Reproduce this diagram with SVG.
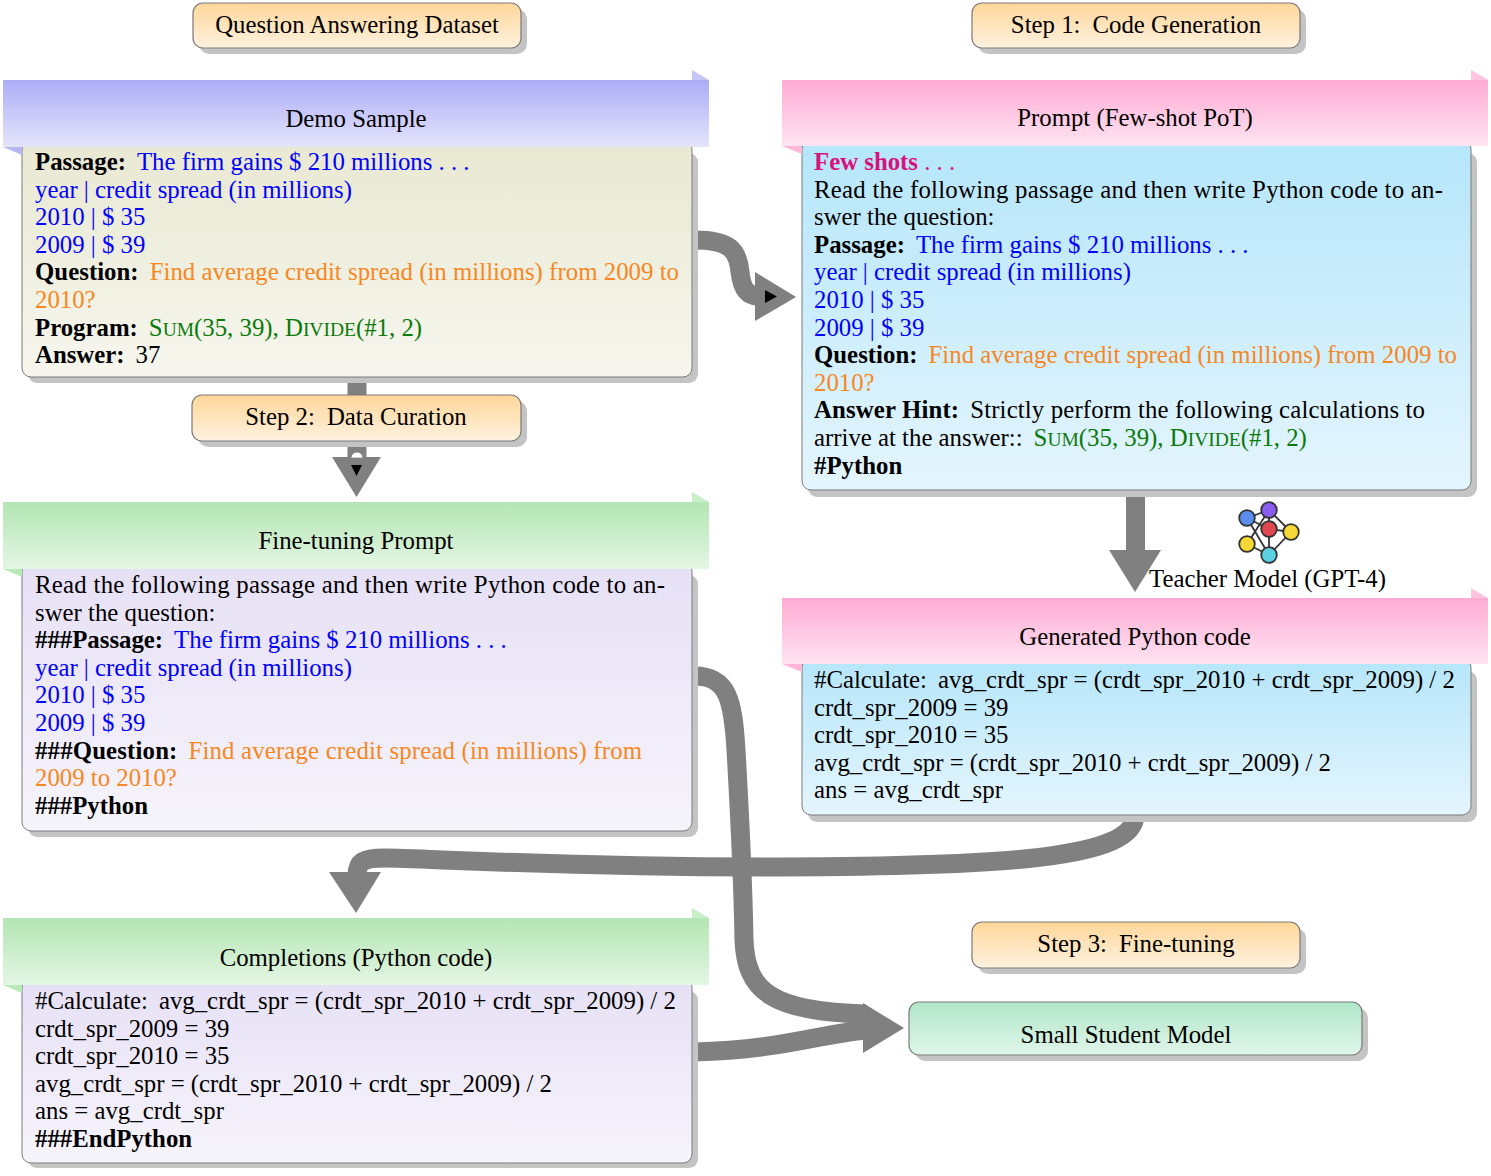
<svg xmlns="http://www.w3.org/2000/svg" width="1491" height="1176" viewBox="0 0 1491 1176">
<defs>
<linearGradient id="gBlueRib" x1="0" y1="0" x2="0" y2="1"><stop offset="0" stop-color="#adadf7"/><stop offset="1" stop-color="#e4e4fb"/></linearGradient>
<linearGradient id="gPinkRib" x1="0" y1="0" x2="0" y2="1"><stop offset="0" stop-color="#ffabd4"/><stop offset="1" stop-color="#ffe4f1"/></linearGradient>
<linearGradient id="gGreenRib" x1="0" y1="0" x2="0" y2="1"><stop offset="0" stop-color="#b3e6b3"/><stop offset="1" stop-color="#e4f6e4"/></linearGradient>
<linearGradient id="gKhaki" x1="0" y1="0" x2="0" y2="1"><stop offset="0" stop-color="#e8e8d2"/><stop offset="1" stop-color="#f6f6ee"/></linearGradient>
<linearGradient id="gCyan" x1="0" y1="0" x2="0" y2="1"><stop offset="0" stop-color="#b5e6fa"/><stop offset="1" stop-color="#e4f5fd"/></linearGradient>
<linearGradient id="gLav" x1="0" y1="0" x2="0" y2="1"><stop offset="0" stop-color="#e6e0f5"/><stop offset="1" stop-color="#f6f4fb"/></linearGradient>
<linearGradient id="gOrange" x1="0" y1="0" x2="0" y2="1"><stop offset="0" stop-color="#ffd699"/><stop offset="1" stop-color="#fff2df"/></linearGradient>
<linearGradient id="gMint" x1="0" y1="0" x2="0" y2="1"><stop offset="0" stop-color="#b0e6c8"/><stop offset="1" stop-color="#e0f6ea"/></linearGradient>
<style>
text{font-family:"Liberation Serif","Times New Roman",serif;font-size:24.8px;fill:#000}
.c{text-anchor:middle}
.b{font-weight:bold}
.bl{fill:#0000ff}
.or{fill:#f7871e}
.gr{fill:#0a7a0a}
.mg{fill:#d6137d}
.sc{font-size:19.5px}
.sh{fill:#c4c4c4}
.body{stroke:#7a7a7a;stroke-width:1}
.step{fill:url(#gOrange);stroke:#7a7a7a;stroke-width:1.2}
.arr{fill:none;stroke:#808080;stroke-width:19}
.head{fill:#808080}
.edge{stroke:#333;stroke-width:1.8}
.nd{stroke:#333;stroke-width:1.8}
</style>
</defs>
<rect width="1491" height="1176" fill="#ffffff"/>

<!-- connectors -->
<g id="connectors">
  <path class="arr" d="M357,372 L357,462"/>
  <polygon class="head" points="332,457 381,457 356.5,497"/>
  <path d="M351,458 A6,6 0 0 1 363,458 Z" fill="#ffffff" stroke="#808080" stroke-width="0.8"/>
  <polygon points="351,465 362,465 356.5,476" fill="#000"/>

  <path class="arr" d="M694,240 C730,240 738,250 740,272 C742,290 748,296 758,296"/>
  <polygon class="head" points="755,272 796,297 755,321"/>
  <polygon points="765,290 765,303 777,296.5" fill="#000"/>

  <path class="arr" d="M1135.5,490 L1135.5,553"/>
  <polygon class="head" points="1109,550 1161,550 1135,592"/>

  <path class="arr" d="M1135,815 C1135,858 1010,867 760,867 C560,867 420,858 385,858 C362,858 357,862 357,876"/>
  <polygon class="head" points="329,872 381,872 356,913"/>

  <path class="arr" d="M694,676 C728,676 733,700 736,750 C740,820 743,880 744,940 C746,990 770,1012 866,1014"/>
  <path class="arr" d="M694,1052 C780,1050 820,1034 866,1030"/>
  <polygon class="head" points="863,1003 904,1028 863,1053"/>
</g>

<!-- step labels -->
<g id="qa-dataset">
  <rect class="sh" x="199" y="9" width="328" height="45" rx="10"/>
  <rect class="step" x="193" y="3" width="328" height="45" rx="10"/>
  <text class="c" x="357" y="33">Question Answering Dataset</text>
</g>
<g id="step1">
  <rect class="sh" x="978" y="9" width="328" height="45" rx="10"/>
  <rect class="step" x="972" y="3" width="328" height="45" rx="10"/>
  <text class="c" x="1136" y="33">Step 1:<tspan dx="12">Code Generation</tspan></text>
</g>

<!-- Demo Sample -->
<g id="demo-sample">
  <rect class="sh" x="28" y="153" width="670" height="230" rx="9"/>
  <rect class="body" x="22" y="140" width="670" height="237" rx="9" fill="url(#gKhaki)"/>
  <rect x="3" y="80" width="706" height="67" fill="url(#gBlueRib)"/>
  <polygon points="692,70 709,80 692,80" fill="#c6c6f6"/>
  <polygon points="3,147 22,147 22,155" fill="#b6b6f0"/>
  <text class="c" x="356" y="126.5">Demo Sample</text>
  <text x="35" y="170"><tspan class="b">Passage:</tspan><tspan class="bl" dx="11">The firm gains $ 210 millions . . .</tspan></text>
  <text x="35" y="197.6" class="bl">year | credit spread (in millions)</text>
  <text x="35" y="225.2" class="bl">2010 | $ 35</text>
  <text x="35" y="252.8" class="bl">2009 | $ 39</text>
  <text x="35" y="280.4" textLength="644" lengthAdjust="spacing"><tspan class="b">Question:</tspan><tspan class="or" dx="11">Find average credit spread (in millions) from 2009 to</tspan></text>
  <text x="35" y="308" class="or">2010?</text>
  <text x="35" y="335.6"><tspan class="b">Program:</tspan><tspan class="gr" dx="11">S</tspan><tspan class="gr sc">UM</tspan><tspan class="gr">(35, 39), D</tspan><tspan class="gr sc">IVIDE</tspan><tspan class="gr">(#1, 2)</tspan></text>
  <text x="35" y="363.2"><tspan class="b">Answer:</tspan><tspan dx="11">37</tspan></text>
</g>

<!-- Step 2 -->
<g id="step2">
  <rect class="sh" x="198" y="401" width="329" height="46" rx="10"/>
  <rect class="step" x="192" y="395" width="329" height="46" rx="10"/>
  <text class="c" x="356" y="425">Step 2:<tspan dx="12">Data Curation</tspan></text>
</g>

<!-- Prompt (Few-shot PoT) -->
<g id="prompt">
  <rect class="sh" x="808" y="153" width="669" height="344" rx="9"/>
  <rect class="body" x="802" y="140" width="669" height="350" rx="9" fill="url(#gCyan)"/>
  <rect x="782" y="80" width="706" height="66" fill="url(#gPinkRib)"/>
  <polygon points="1471,70 1488,80 1471,80" fill="#ffc4df"/>
  <polygon points="782,146 802,146 802,154" fill="#ffb6d8"/>
  <text class="c" x="1135" y="126">Prompt (Few-shot PoT)</text>
  <text x="814" y="170" class="mg"><tspan class="b">Few shots</tspan> . . .</text>
  <text x="814" y="197.6" textLength="629" lengthAdjust="spacing">Read the following passage and then write Python code to an-</text>
  <text x="814" y="225.2">swer the question:</text>
  <text x="814" y="252.8"><tspan class="b">Passage:</tspan><tspan class="bl" dx="11">The firm gains $ 210 millions . . .</tspan></text>
  <text x="814" y="280.4" class="bl">year | credit spread (in millions)</text>
  <text x="814" y="308" class="bl">2010 | $ 35</text>
  <text x="814" y="335.6" class="bl">2009 | $ 39</text>
  <text x="814" y="363.2" textLength="643" lengthAdjust="spacing"><tspan class="b">Question:</tspan><tspan class="or" dx="11">Find average credit spread (in millions) from 2009 to</tspan></text>
  <text x="814" y="390.8" class="or">2010?</text>
  <text x="814" y="418.4" textLength="611" lengthAdjust="spacing"><tspan class="b">Answer Hint:</tspan><tspan dx="11">Strictly perform the following calculations to</tspan></text>
  <text x="814" y="446">arrive at the answer::<tspan class="gr" dx="11">S</tspan><tspan class="gr sc">UM</tspan><tspan class="gr">(35, 39), D</tspan><tspan class="gr sc">IVIDE</tspan><tspan class="gr">(#1, 2)</tspan></text>
  <text x="814" y="473.6" class="b">#Python</text>
</g>

<!-- Teacher model -->
<g id="teacher-model">
  <line class="edge" x1="1247" y1="518" x2="1269" y2="510"/>
  <line class="edge" x1="1247" y1="518" x2="1269" y2="529"/>
  <line class="edge" x1="1247" y1="518" x2="1269" y2="555"/>
  <line class="edge" x1="1269" y1="510" x2="1247" y2="544"/>
  <line class="edge" x1="1269" y1="510" x2="1291" y2="532"/>
  <line class="edge" x1="1269" y1="510" x2="1269" y2="529"/>
  <line class="edge" x1="1269" y1="529" x2="1269" y2="555"/>
  <line class="edge" x1="1269" y1="529" x2="1291" y2="532"/>
  <line class="edge" x1="1291" y1="532" x2="1269" y2="555"/>
  <line class="edge" x1="1247" y1="544" x2="1269" y2="555"/>
  <circle class="nd" cx="1247" cy="518" r="7.8" fill="#5b8def"/>
  <circle class="nd" cx="1269" cy="510" r="7.8" fill="#8a5cf0"/>
  <circle class="nd" cx="1269" cy="529" r="7.8" fill="#e0474f"/>
  <circle class="nd" cx="1291" cy="532" r="7.8" fill="#f5d835"/>
  <circle class="nd" cx="1247" cy="544" r="7.8" fill="#f5d835"/>
  <circle class="nd" cx="1269" cy="555" r="7.8" fill="#5bd0e0"/>
  <text x="1149" y="587">Teacher Model (GPT-4)</text>
</g>

<!-- Fine-tuning Prompt -->
<g id="fine-tuning-prompt">
  <rect class="sh" x="28" y="575" width="670" height="262" rx="9"/>
  <rect class="body" x="22" y="562" width="670" height="269" rx="9" fill="url(#gLav)"/>
  <rect x="3" y="502" width="706" height="67" fill="url(#gGreenRib)"/>
  <polygon points="692,492 709,502 692,502" fill="#c8eec8"/>
  <polygon points="3,569 22,569 22,577" fill="#b9e8b9"/>
  <text class="c" x="356" y="549">Fine-tuning Prompt</text>
  <text x="35" y="593" textLength="630" lengthAdjust="spacing">Read the following passage and then write Python code to an-</text>
  <text x="35" y="620.6">swer the question:</text>
  <text x="35" y="648.2"><tspan class="b">###Passage:</tspan><tspan class="bl" dx="11">The firm gains $ 210 millions . . .</tspan></text>
  <text x="35" y="675.8" class="bl">year | credit spread (in millions)</text>
  <text x="35" y="703.4" class="bl">2010 | $ 35</text>
  <text x="35" y="731" class="bl">2009 | $ 39</text>
  <text x="35" y="758.6" textLength="607" lengthAdjust="spacing"><tspan class="b">###Question:</tspan><tspan class="or" dx="11">Find average credit spread (in millions) from</tspan></text>
  <text x="35" y="786.2" class="or">2009 to 2010?</text>
  <text x="35" y="813.8" class="b">###Python</text>
</g>

<!-- Generated Python code -->
<g id="generated-code">
  <rect class="sh" x="808" y="671" width="669" height="151" rx="9"/>
  <rect class="body" x="802" y="658" width="669" height="157" rx="9" fill="url(#gCyan)"/>
  <rect x="782" y="598" width="706" height="66" fill="url(#gPinkRib)"/>
  <polygon points="1471,588 1488,598 1471,598" fill="#ffc4df"/>
  <polygon points="782,664 802,664 802,672" fill="#ffb6d8"/>
  <text class="c" x="1135" y="645">Generated Python code</text>
  <text x="814" y="688">#Calculate:<tspan dx="11">avg_crdt_spr = (crdt_spr_2010 + crdt_spr_2009) / 2</tspan></text>
  <text x="814" y="715.6">crdt_spr_2009 = 39</text>
  <text x="814" y="743.2">crdt_spr_2010 = 35</text>
  <text x="814" y="770.8">avg_crdt_spr = (crdt_spr_2010 + crdt_spr_2009) / 2</text>
  <text x="814" y="798.4">ans = avg_crdt_spr</text>
</g>

<!-- Completions -->
<g id="completions">
  <rect class="sh" x="28" y="991" width="670" height="177" rx="9"/>
  <rect class="body" x="22" y="978" width="670" height="185" rx="9" fill="url(#gLav)"/>
  <rect x="3" y="918" width="706" height="67" fill="url(#gGreenRib)"/>
  <polygon points="692,908 709,918 692,918" fill="#c8eec8"/>
  <polygon points="3,985 22,985 22,993" fill="#b9e8b9"/>
  <text class="c" x="356" y="966">Completions (Python code)</text>
  <text x="35" y="1009">#Calculate:<tspan dx="11">avg_crdt_spr = (crdt_spr_2010 + crdt_spr_2009) / 2</tspan></text>
  <text x="35" y="1036.6">crdt_spr_2009 = 39</text>
  <text x="35" y="1064.2">crdt_spr_2010 = 35</text>
  <text x="35" y="1091.8">avg_crdt_spr = (crdt_spr_2010 + crdt_spr_2009) / 2</text>
  <text x="35" y="1119.4">ans = avg_crdt_spr</text>
  <text x="35" y="1147" class="b">###EndPython</text>
</g>

<!-- Step 3 -->
<g id="step3">
  <rect class="sh" x="978" y="928" width="328" height="46" rx="10"/>
  <rect class="step" x="972" y="922" width="328" height="46" rx="10"/>
  <text class="c" x="1136" y="952">Step 3:<tspan dx="12">Fine-tuning</tspan></text>
</g>

<!-- Small Student Model -->
<g id="student-model">
  <rect class="sh" x="915" y="1008" width="453" height="53" rx="10"/>
  <rect x="909" y="1002" width="453" height="53" rx="10" fill="url(#gMint)" stroke="#7a7a7a" stroke-width="1.2"/>
  <text class="c" x="1126" y="1043">Small Student Model</text>
</g>
</svg>
